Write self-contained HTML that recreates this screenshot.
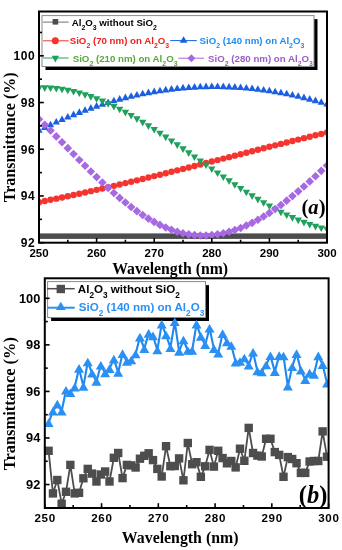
<!DOCTYPE html>
<html><head><meta charset="utf-8"><title>Transmittance</title>
<style>html,body{margin:0;padding:0;background:#fff;width:342px;height:550px;overflow:hidden}svg{display:block}</style>
</head><body>
<svg width="342" height="550" viewBox="0 0 342 550">
<rect width="342" height="550" fill="#fff"/>
<defs><clipPath id="c1"><rect x="39" y="11.5" width="288" height="231.2"/></clipPath><clipPath id="c2"><rect x="44.8" y="278.3" width="283.8" height="229.7"/></clipPath></defs>
<rect x="45.5" y="19.1" width="272" height="50.9" fill="#000"/>
<rect x="42" y="15.6" width="272" height="50.9" fill="#fff" stroke="#8a8a8a" stroke-width="1"/>
<line x1="43" y1="22.1" x2="68.6" y2="22.1" stroke="#707070" stroke-width="1"/>
<rect x="52.6" y="19" width="5.6" height="5.6" fill="#4d4d4d"/>
<text x="71.7" y="25.9" font-size="9.7" fill="#000" font-family="'Liberation Sans', Arial, sans-serif" font-weight="bold"><tspan>Al</tspan><tspan font-size="6.89" dy="4.07">2</tspan><tspan dy="-4.07">O</tspan><tspan font-size="6.89" dy="4.07">3</tspan><tspan dy="-4.07"> without SiO</tspan><tspan font-size="6.89" dy="4.07">2</tspan></text>
<line x1="43" y1="40.8" x2="68.6" y2="40.8" stroke="#f5342f" stroke-width="1"/>
<circle cx="55.3" cy="40.8" r="3.5" fill="#f5342f"/>
<text x="69.7" y="44.3" font-size="9.7" fill="#f0201c" font-family="'Liberation Sans', Arial, sans-serif" font-weight="bold"><tspan>SiO</tspan><tspan font-size="6.89" dy="4.07">2</tspan><tspan dy="-4.07"> (70 nm) on </tspan><tspan>Al</tspan><tspan font-size="6.89" dy="4.07">2</tspan><tspan dy="-4.07">O</tspan><tspan font-size="6.89" dy="4.07">3</tspan></text>
<line x1="170.2" y1="40.6" x2="196.8" y2="40.6" stroke="#1b5fe0" stroke-width="1"/>
<polygon points="183.6,36.2 187.45,42.8 179.75,42.8" fill="#1b5fe0"/>
<text x="199.5" y="44.3" font-size="9.7" fill="#1f8bf0" font-family="'Liberation Sans', Arial, sans-serif" font-weight="bold"><tspan>SiO</tspan><tspan font-size="6.89" dy="4.07">2</tspan><tspan dy="-4.07"> (140 nm) on </tspan><tspan>Al</tspan><tspan font-size="6.89" dy="4.07">2</tspan><tspan dy="-4.07">O</tspan><tspan font-size="6.89" dy="4.07">3</tspan></text>
<line x1="43" y1="58" x2="68.6" y2="58" stroke="#1fa05c" stroke-width="1"/>
<polygon points="55.35,62.6 59.05,55.8 51.65,55.8" fill="#1fa05c"/>
<text x="72.7" y="61.7" font-size="9.7" fill="#58a83a" font-family="'Liberation Sans', Arial, sans-serif" font-weight="bold"><tspan>SiO</tspan><tspan font-size="6.89" dy="4.07">2</tspan><tspan dy="-4.07"> (210 nm) on </tspan><tspan>Al</tspan><tspan font-size="6.89" dy="4.07">2</tspan><tspan dy="-4.07">O</tspan><tspan font-size="6.89" dy="4.07">3</tspan></text>
<line x1="178.4" y1="58.2" x2="204" y2="58.2" stroke="#a769e2" stroke-width="1"/>
<polygon points="191.4,54.35 195.35,58.3 191.4,62.25 187.45,58.3" fill="#a769e2"/>
<text x="208.1" y="61.7" font-size="9.7" fill="#9b5cc8" font-family="'Liberation Sans', Arial, sans-serif" font-weight="bold"><tspan>SiO</tspan><tspan font-size="6.89" dy="4.07">2</tspan><tspan dy="-4.07"> (280 nm) on </tspan><tspan>Al</tspan><tspan font-size="6.89" dy="4.07">2</tspan><tspan dy="-4.07">O</tspan><tspan font-size="6.89" dy="4.07">3</tspan></text>
<g clip-path="url(#c1)">
<rect x="36" y="233.4" width="294" height="5.5" fill="#4d4d4d"/>
<circle cx="39" cy="202.13" r="3.2" fill="#f5342f"/>
<circle cx="44.76" cy="200.99" r="3.2" fill="#f5342f"/>
<circle cx="50.52" cy="199.82" r="3.2" fill="#f5342f"/>
<circle cx="56.28" cy="198.63" r="3.2" fill="#f5342f"/>
<circle cx="62.04" cy="197.43" r="3.2" fill="#f5342f"/>
<circle cx="67.8" cy="196.2" r="3.2" fill="#f5342f"/>
<circle cx="73.56" cy="194.96" r="3.2" fill="#f5342f"/>
<circle cx="79.32" cy="193.7" r="3.2" fill="#f5342f"/>
<circle cx="85.08" cy="192.43" r="3.2" fill="#f5342f"/>
<circle cx="90.84" cy="191.14" r="3.2" fill="#f5342f"/>
<circle cx="96.6" cy="189.83" r="3.2" fill="#f5342f"/>
<circle cx="102.36" cy="188.52" r="3.2" fill="#f5342f"/>
<circle cx="108.12" cy="187.18" r="3.2" fill="#f5342f"/>
<circle cx="113.88" cy="185.84" r="3.2" fill="#f5342f"/>
<circle cx="119.64" cy="184.48" r="3.2" fill="#f5342f"/>
<circle cx="125.4" cy="183.11" r="3.2" fill="#f5342f"/>
<circle cx="131.16" cy="181.73" r="3.2" fill="#f5342f"/>
<circle cx="136.92" cy="180.34" r="3.2" fill="#f5342f"/>
<circle cx="142.68" cy="178.94" r="3.2" fill="#f5342f"/>
<circle cx="148.44" cy="177.52" r="3.2" fill="#f5342f"/>
<circle cx="154.2" cy="176.1" r="3.2" fill="#f5342f"/>
<circle cx="159.96" cy="174.68" r="3.2" fill="#f5342f"/>
<circle cx="165.72" cy="173.24" r="3.2" fill="#f5342f"/>
<circle cx="171.48" cy="171.8" r="3.2" fill="#f5342f"/>
<circle cx="177.24" cy="170.35" r="3.2" fill="#f5342f"/>
<circle cx="183" cy="168.9" r="3.2" fill="#f5342f"/>
<circle cx="188.76" cy="167.44" r="3.2" fill="#f5342f"/>
<circle cx="194.52" cy="165.97" r="3.2" fill="#f5342f"/>
<circle cx="200.28" cy="164.51" r="3.2" fill="#f5342f"/>
<circle cx="206.04" cy="163.03" r="3.2" fill="#f5342f"/>
<circle cx="211.8" cy="161.56" r="3.2" fill="#f5342f"/>
<circle cx="217.56" cy="160.09" r="3.2" fill="#f5342f"/>
<circle cx="223.32" cy="158.61" r="3.2" fill="#f5342f"/>
<circle cx="229.08" cy="157.13" r="3.2" fill="#f5342f"/>
<circle cx="234.84" cy="155.66" r="3.2" fill="#f5342f"/>
<circle cx="240.6" cy="154.18" r="3.2" fill="#f5342f"/>
<circle cx="246.36" cy="152.7" r="3.2" fill="#f5342f"/>
<circle cx="252.12" cy="151.23" r="3.2" fill="#f5342f"/>
<circle cx="257.88" cy="149.76" r="3.2" fill="#f5342f"/>
<circle cx="263.64" cy="148.29" r="3.2" fill="#f5342f"/>
<circle cx="269.4" cy="146.82" r="3.2" fill="#f5342f"/>
<circle cx="275.16" cy="145.36" r="3.2" fill="#f5342f"/>
<circle cx="280.92" cy="143.91" r="3.2" fill="#f5342f"/>
<circle cx="286.68" cy="142.46" r="3.2" fill="#f5342f"/>
<circle cx="292.44" cy="141.01" r="3.2" fill="#f5342f"/>
<circle cx="298.2" cy="139.58" r="3.2" fill="#f5342f"/>
<circle cx="303.96" cy="138.15" r="3.2" fill="#f5342f"/>
<circle cx="309.72" cy="136.72" r="3.2" fill="#f5342f"/>
<circle cx="315.48" cy="135.31" r="3.2" fill="#f5342f"/>
<circle cx="321.24" cy="133.91" r="3.2" fill="#f5342f"/>
<circle cx="327" cy="132.51" r="3.2" fill="#f5342f"/>
<polygon points="39,126.27 42.7,132.87 35.3,132.87" fill="#1b5fe0"/>
<polygon points="44.76,123.41 48.46,130.01 41.06,130.01" fill="#1b5fe0"/>
<polygon points="50.52,120.65 54.22,127.25 46.82,127.25" fill="#1b5fe0"/>
<polygon points="56.28,117.98 59.98,124.58 52.58,124.58" fill="#1b5fe0"/>
<polygon points="62.04,115.42 65.74,122.02 58.34,122.02" fill="#1b5fe0"/>
<polygon points="67.8,112.95 71.5,119.55 64.1,119.55" fill="#1b5fe0"/>
<polygon points="73.56,110.58 77.26,117.18 69.86,117.18" fill="#1b5fe0"/>
<polygon points="79.32,108.31 83.02,114.91 75.62,114.91" fill="#1b5fe0"/>
<polygon points="85.08,106.13 88.78,112.73 81.38,112.73" fill="#1b5fe0"/>
<polygon points="90.84,104.06 94.54,110.66 87.14,110.66" fill="#1b5fe0"/>
<polygon points="96.6,102.07 100.3,108.67 92.9,108.67" fill="#1b5fe0"/>
<polygon points="102.36,100.19 106.06,106.79 98.66,106.79" fill="#1b5fe0"/>
<polygon points="108.12,98.4 111.82,105 104.42,105" fill="#1b5fe0"/>
<polygon points="113.88,96.71 117.58,103.31 110.18,103.31" fill="#1b5fe0"/>
<polygon points="119.64,95.12 123.34,101.72 115.94,101.72" fill="#1b5fe0"/>
<polygon points="125.4,93.62 129.1,100.22 121.7,100.22" fill="#1b5fe0"/>
<polygon points="131.16,92.21 134.86,98.81 127.46,98.81" fill="#1b5fe0"/>
<polygon points="136.92,90.91 140.62,97.51 133.22,97.51" fill="#1b5fe0"/>
<polygon points="142.68,89.69 146.38,96.29 138.98,96.29" fill="#1b5fe0"/>
<polygon points="148.44,88.58 152.14,95.18 144.74,95.18" fill="#1b5fe0"/>
<polygon points="154.2,87.55 157.9,94.15 150.5,94.15" fill="#1b5fe0"/>
<polygon points="159.96,86.63 163.66,93.23 156.26,93.23" fill="#1b5fe0"/>
<polygon points="165.72,85.79 169.42,92.39 162.02,92.39" fill="#1b5fe0"/>
<polygon points="171.48,85.06 175.18,91.66 167.78,91.66" fill="#1b5fe0"/>
<polygon points="177.24,84.41 180.94,91.01 173.54,91.01" fill="#1b5fe0"/>
<polygon points="183,83.86 186.7,90.46 179.3,90.46" fill="#1b5fe0"/>
<polygon points="188.76,83.4 192.46,90 185.06,90" fill="#1b5fe0"/>
<polygon points="194.52,83.04 198.22,89.64 190.82,89.64" fill="#1b5fe0"/>
<polygon points="200.28,82.77 203.98,89.37 196.58,89.37" fill="#1b5fe0"/>
<polygon points="206.04,82.59 209.74,89.19 202.34,89.19" fill="#1b5fe0"/>
<polygon points="211.8,82.51 215.5,89.11 208.1,89.11" fill="#1b5fe0"/>
<polygon points="217.56,82.51 221.26,89.11 213.86,89.11" fill="#1b5fe0"/>
<polygon points="223.32,82.62 227.02,89.22 219.62,89.22" fill="#1b5fe0"/>
<polygon points="229.08,82.81 232.78,89.41 225.38,89.41" fill="#1b5fe0"/>
<polygon points="234.84,83.09 238.54,89.69 231.14,89.69" fill="#1b5fe0"/>
<polygon points="240.6,83.47 244.3,90.07 236.9,90.07" fill="#1b5fe0"/>
<polygon points="246.36,83.94 250.06,90.54 242.66,90.54" fill="#1b5fe0"/>
<polygon points="252.12,84.5 255.82,91.1 248.42,91.1" fill="#1b5fe0"/>
<polygon points="257.88,85.15 261.58,91.75 254.18,91.75" fill="#1b5fe0"/>
<polygon points="263.64,85.89 267.34,92.49 259.94,92.49" fill="#1b5fe0"/>
<polygon points="269.4,86.72 273.1,93.32 265.7,93.32" fill="#1b5fe0"/>
<polygon points="275.16,87.65 278.86,94.25 271.46,94.25" fill="#1b5fe0"/>
<polygon points="280.92,88.66 284.62,95.26 277.22,95.26" fill="#1b5fe0"/>
<polygon points="286.68,89.76 290.38,96.36 282.98,96.36" fill="#1b5fe0"/>
<polygon points="292.44,90.96 296.14,97.56 288.74,97.56" fill="#1b5fe0"/>
<polygon points="298.2,92.24 301.9,98.84 294.5,98.84" fill="#1b5fe0"/>
<polygon points="303.96,93.61 307.66,100.21 300.26,100.21" fill="#1b5fe0"/>
<polygon points="309.72,95.07 313.42,101.67 306.02,101.67" fill="#1b5fe0"/>
<polygon points="315.48,96.62 319.18,103.22 311.78,103.22" fill="#1b5fe0"/>
<polygon points="321.24,98.26 324.94,104.86 317.54,104.86" fill="#1b5fe0"/>
<polygon points="327,99.99 330.7,106.59 323.3,106.59" fill="#1b5fe0"/>
<polygon points="39,92.12 42.7,85.52 35.3,85.52" fill="#1fa05c"/>
<polygon points="44.76,91.97 48.46,85.37 41.06,85.37" fill="#1fa05c"/>
<polygon points="50.52,92.12 54.22,85.52 46.82,85.52" fill="#1fa05c"/>
<polygon points="56.28,92.57 59.98,85.97 52.58,85.97" fill="#1fa05c"/>
<polygon points="62.04,93.29 65.74,86.69 58.34,86.69" fill="#1fa05c"/>
<polygon points="67.8,94.27 71.5,87.67 64.1,87.67" fill="#1fa05c"/>
<polygon points="73.56,95.52 77.26,88.92 69.86,88.92" fill="#1fa05c"/>
<polygon points="79.32,97.01 83.02,90.41 75.62,90.41" fill="#1fa05c"/>
<polygon points="85.08,98.74 88.78,92.14 81.38,92.14" fill="#1fa05c"/>
<polygon points="90.84,100.68 94.54,94.08 87.14,94.08" fill="#1fa05c"/>
<polygon points="96.6,102.84 100.3,96.24 92.9,96.24" fill="#1fa05c"/>
<polygon points="102.36,105.2 106.06,98.6 98.66,98.6" fill="#1fa05c"/>
<polygon points="108.12,107.75 111.82,101.15 104.42,101.15" fill="#1fa05c"/>
<polygon points="113.88,110.48 117.58,103.88 110.18,103.88" fill="#1fa05c"/>
<polygon points="119.64,113.37 123.34,106.77 115.94,106.77" fill="#1fa05c"/>
<polygon points="125.4,116.42 129.1,109.82 121.7,109.82" fill="#1fa05c"/>
<polygon points="131.16,119.61 134.86,113.01 127.46,113.01" fill="#1fa05c"/>
<polygon points="136.92,122.93 140.62,116.33 133.22,116.33" fill="#1fa05c"/>
<polygon points="142.68,126.38 146.38,119.78 138.98,119.78" fill="#1fa05c"/>
<polygon points="148.44,129.93 152.14,123.33 144.74,123.33" fill="#1fa05c"/>
<polygon points="154.2,133.59 157.9,126.99 150.5,126.99" fill="#1fa05c"/>
<polygon points="159.96,137.33 163.66,130.73 156.26,130.73" fill="#1fa05c"/>
<polygon points="165.72,141.15 169.42,134.55 162.02,134.55" fill="#1fa05c"/>
<polygon points="171.48,145.03 175.18,138.43 167.78,138.43" fill="#1fa05c"/>
<polygon points="177.24,148.97 180.94,142.37 173.54,142.37" fill="#1fa05c"/>
<polygon points="183,152.95 186.7,146.35 179.3,146.35" fill="#1fa05c"/>
<polygon points="188.76,156.96 192.46,150.36 185.06,150.36" fill="#1fa05c"/>
<polygon points="194.52,160.99 198.22,154.39 190.82,154.39" fill="#1fa05c"/>
<polygon points="200.28,165.03 203.98,158.43 196.58,158.43" fill="#1fa05c"/>
<polygon points="206.04,169.07 209.74,162.47 202.34,162.47" fill="#1fa05c"/>
<polygon points="211.8,173.09 215.5,166.49 208.1,166.49" fill="#1fa05c"/>
<polygon points="217.56,177.09 221.26,170.49 213.86,170.49" fill="#1fa05c"/>
<polygon points="223.32,181.05 227.02,174.45 219.62,174.45" fill="#1fa05c"/>
<polygon points="229.08,184.96 232.78,178.36 225.38,178.36" fill="#1fa05c"/>
<polygon points="234.84,188.82 238.54,182.22 231.14,182.22" fill="#1fa05c"/>
<polygon points="240.6,192.61 244.3,186.01 236.9,186.01" fill="#1fa05c"/>
<polygon points="246.36,196.32 250.06,189.72 242.66,189.72" fill="#1fa05c"/>
<polygon points="252.12,199.93 255.82,193.33 248.42,193.33" fill="#1fa05c"/>
<polygon points="257.88,203.44 261.58,196.84 254.18,196.84" fill="#1fa05c"/>
<polygon points="263.64,206.84 267.34,200.24 259.94,200.24" fill="#1fa05c"/>
<polygon points="269.4,210.11 273.1,203.51 265.7,203.51" fill="#1fa05c"/>
<polygon points="275.16,213.24 278.86,206.64 271.46,206.64" fill="#1fa05c"/>
<polygon points="280.92,216.23 284.62,209.63 277.22,209.63" fill="#1fa05c"/>
<polygon points="286.68,219.06 290.38,212.46 282.98,212.46" fill="#1fa05c"/>
<polygon points="292.44,221.72 296.14,215.12 288.74,215.12" fill="#1fa05c"/>
<polygon points="298.2,224.19 301.9,217.59 294.5,217.59" fill="#1fa05c"/>
<polygon points="303.96,226.47 307.66,219.87 300.26,219.87" fill="#1fa05c"/>
<polygon points="309.72,228.55 313.42,221.95 306.02,221.95" fill="#1fa05c"/>
<polygon points="315.48,230.42 319.18,223.82 311.78,223.82" fill="#1fa05c"/>
<polygon points="321.24,232.05 324.94,225.45 317.54,225.45" fill="#1fa05c"/>
<polygon points="327,233.45 330.7,226.85 323.3,226.85" fill="#1fa05c"/>
<polygon points="39,114.83 43.3,119.13 39,123.43 34.7,119.13" fill="#a769e2"/>
<polygon points="44.76,120.49 49.06,124.79 44.76,129.09 40.46,124.79" fill="#a769e2"/>
<polygon points="50.52,126.25 54.82,130.55 50.52,134.85 46.22,130.55" fill="#a769e2"/>
<polygon points="56.28,132.08 60.58,136.38 56.28,140.68 51.98,136.38" fill="#a769e2"/>
<polygon points="62.04,137.97 66.34,142.27 62.04,146.57 57.74,142.27" fill="#a769e2"/>
<polygon points="67.8,143.87 72.1,148.17 67.8,152.47 63.5,148.17" fill="#a769e2"/>
<polygon points="73.56,149.77 77.86,154.07 73.56,158.37 69.26,154.07" fill="#a769e2"/>
<polygon points="79.32,155.64 83.62,159.94 79.32,164.24 75.02,159.94" fill="#a769e2"/>
<polygon points="85.08,161.45 89.38,165.75 85.08,170.05 80.78,165.75" fill="#a769e2"/>
<polygon points="90.84,167.17 95.14,171.47 90.84,175.77 86.54,171.47" fill="#a769e2"/>
<polygon points="96.6,172.79 100.9,177.09 96.6,181.39 92.3,177.09" fill="#a769e2"/>
<polygon points="102.36,178.26 106.66,182.56 102.36,186.86 98.06,182.56" fill="#a769e2"/>
<polygon points="108.12,183.57 112.42,187.87 108.12,192.17 103.82,187.87" fill="#a769e2"/>
<polygon points="113.88,188.69 118.18,192.99 113.88,197.29 109.58,192.99" fill="#a769e2"/>
<polygon points="119.64,193.6 123.94,197.9 119.64,202.2 115.34,197.9" fill="#a769e2"/>
<polygon points="125.4,198.27 129.7,202.57 125.4,206.87 121.1,202.57" fill="#a769e2"/>
<polygon points="131.16,202.69 135.46,206.99 131.16,211.29 126.86,206.99" fill="#a769e2"/>
<polygon points="136.92,206.86 141.22,211.16 136.92,215.46 132.62,211.16" fill="#a769e2"/>
<polygon points="142.68,210.74 146.98,215.04 142.68,219.34 138.38,215.04" fill="#a769e2"/>
<polygon points="148.44,214.33 152.74,218.63 148.44,222.93 144.14,218.63" fill="#a769e2"/>
<polygon points="154.2,217.62 158.5,221.92 154.2,226.22 149.9,221.92" fill="#a769e2"/>
<polygon points="159.96,220.58 164.26,224.88 159.96,229.18 155.66,224.88" fill="#a769e2"/>
<polygon points="165.72,223.2 170.02,227.5 165.72,231.8 161.42,227.5" fill="#a769e2"/>
<polygon points="171.48,225.48 175.78,229.78 171.48,234.08 167.18,229.78" fill="#a769e2"/>
<polygon points="177.24,227.38 181.54,231.68 177.24,235.98 172.94,231.68" fill="#a769e2"/>
<polygon points="183,228.91 187.3,233.21 183,237.51 178.7,233.21" fill="#a769e2"/>
<polygon points="188.76,230.04 193.06,234.34 188.76,238.64 184.46,234.34" fill="#a769e2"/>
<polygon points="194.52,230.78 198.82,235.08 194.52,239.38 190.22,235.08" fill="#a769e2"/>
<polygon points="200.28,231.14 204.58,235.44 200.28,239.74 195.98,235.44" fill="#a769e2"/>
<polygon points="206.04,231.13 210.34,235.43 206.04,239.73 201.74,235.43" fill="#a769e2"/>
<polygon points="211.8,230.75 216.1,235.05 211.8,239.35 207.5,235.05" fill="#a769e2"/>
<polygon points="217.56,230.01 221.86,234.31 217.56,238.61 213.26,234.31" fill="#a769e2"/>
<polygon points="223.32,228.93 227.62,233.23 223.32,237.53 219.02,233.23" fill="#a769e2"/>
<polygon points="229.08,227.5 233.38,231.8 229.08,236.1 224.78,231.8" fill="#a769e2"/>
<polygon points="234.84,225.74 239.14,230.04 234.84,234.34 230.54,230.04" fill="#a769e2"/>
<polygon points="240.6,223.65 244.9,227.95 240.6,232.25 236.3,227.95" fill="#a769e2"/>
<polygon points="246.36,221.24 250.66,225.54 246.36,229.84 242.06,225.54" fill="#a769e2"/>
<polygon points="252.12,218.53 256.42,222.83 252.12,227.13 247.82,222.83" fill="#a769e2"/>
<polygon points="257.88,215.51 262.18,219.81 257.88,224.11 253.58,219.81" fill="#a769e2"/>
<polygon points="263.64,212.19 267.94,216.49 263.64,220.79 259.34,216.49" fill="#a769e2"/>
<polygon points="269.4,208.6 273.7,212.9 269.4,217.2 265.1,212.9" fill="#a769e2"/>
<polygon points="275.16,204.75 279.46,209.05 275.16,213.35 270.86,209.05" fill="#a769e2"/>
<polygon points="280.92,200.66 285.22,204.96 280.92,209.26 276.62,204.96" fill="#a769e2"/>
<polygon points="286.68,196.33 290.98,200.63 286.68,204.93 282.38,200.63" fill="#a769e2"/>
<polygon points="292.44,191.8 296.74,196.1 292.44,200.4 288.14,196.1" fill="#a769e2"/>
<polygon points="298.2,187.07 302.5,191.37 298.2,195.67 293.9,191.37" fill="#a769e2"/>
<polygon points="303.96,182.17 308.26,186.47 303.96,190.77 299.66,186.47" fill="#a769e2"/>
<polygon points="309.72,177.11 314.02,181.41 309.72,185.71 305.42,181.41" fill="#a769e2"/>
<polygon points="315.48,171.9 319.78,176.2 315.48,180.5 311.18,176.2" fill="#a769e2"/>
<polygon points="321.24,166.57 325.54,170.87 321.24,175.17 316.94,170.87" fill="#a769e2"/>
<polygon points="327,161.13 331.3,165.43 327,169.73 322.7,165.43" fill="#a769e2"/>
</g>
<rect x="39" y="11.5" width="288" height="231.2" fill="none" stroke="#000" stroke-width="2"/>
<line x1="39" y1="242.7" x2="43.8" y2="242.7" stroke="#000" stroke-width="1.6"/>
<line x1="39" y1="219.34" x2="42" y2="219.34" stroke="#000" stroke-width="1.6"/>
<line x1="39" y1="195.98" x2="43.8" y2="195.98" stroke="#000" stroke-width="1.6"/>
<line x1="39" y1="172.62" x2="42" y2="172.62" stroke="#000" stroke-width="1.6"/>
<line x1="39" y1="149.26" x2="43.8" y2="149.26" stroke="#000" stroke-width="1.6"/>
<line x1="39" y1="125.9" x2="42" y2="125.9" stroke="#000" stroke-width="1.6"/>
<line x1="39" y1="102.54" x2="43.8" y2="102.54" stroke="#000" stroke-width="1.6"/>
<line x1="39" y1="79.18" x2="42" y2="79.18" stroke="#000" stroke-width="1.6"/>
<line x1="39" y1="55.82" x2="43.8" y2="55.82" stroke="#000" stroke-width="1.6"/>
<line x1="39" y1="32.46" x2="42" y2="32.46" stroke="#000" stroke-width="1.6"/>
<line x1="39" y1="242.7" x2="39" y2="237.9" stroke="#000" stroke-width="1.6"/>
<line x1="67.8" y1="242.7" x2="67.8" y2="239.7" stroke="#000" stroke-width="1.6"/>
<line x1="96.6" y1="242.7" x2="96.6" y2="237.9" stroke="#000" stroke-width="1.6"/>
<line x1="125.4" y1="242.7" x2="125.4" y2="239.7" stroke="#000" stroke-width="1.6"/>
<line x1="154.2" y1="242.7" x2="154.2" y2="237.9" stroke="#000" stroke-width="1.6"/>
<line x1="183" y1="242.7" x2="183" y2="239.7" stroke="#000" stroke-width="1.6"/>
<line x1="211.8" y1="242.7" x2="211.8" y2="237.9" stroke="#000" stroke-width="1.6"/>
<line x1="240.6" y1="242.7" x2="240.6" y2="239.7" stroke="#000" stroke-width="1.6"/>
<line x1="269.4" y1="242.7" x2="269.4" y2="237.9" stroke="#000" stroke-width="1.6"/>
<line x1="298.2" y1="242.7" x2="298.2" y2="239.7" stroke="#000" stroke-width="1.6"/>
<line x1="327" y1="242.7" x2="327" y2="237.9" stroke="#000" stroke-width="1.6"/>
<text x="35.1" y="247" text-anchor="end" font-size="12" letter-spacing="0.5" font-family="'Liberation Sans', Arial, sans-serif" font-weight="bold">92</text>
<text x="35.1" y="200.28" text-anchor="end" font-size="12" letter-spacing="0.5" font-family="'Liberation Sans', Arial, sans-serif" font-weight="bold">94</text>
<text x="35.1" y="153.56" text-anchor="end" font-size="12" letter-spacing="0.5" font-family="'Liberation Sans', Arial, sans-serif" font-weight="bold">96</text>
<text x="35.1" y="106.84" text-anchor="end" font-size="12" letter-spacing="0.5" font-family="'Liberation Sans', Arial, sans-serif" font-weight="bold">98</text>
<text x="35.1" y="60.12" text-anchor="end" font-size="12" letter-spacing="0.5" font-family="'Liberation Sans', Arial, sans-serif" font-weight="bold">100</text>
<text x="39" y="257.4" text-anchor="middle" font-size="11.5" font-family="'Liberation Sans', Arial, sans-serif" font-weight="bold">250</text>
<text x="96.6" y="257.4" text-anchor="middle" font-size="11.5" font-family="'Liberation Sans', Arial, sans-serif" font-weight="bold">260</text>
<text x="154.2" y="257.4" text-anchor="middle" font-size="11.5" font-family="'Liberation Sans', Arial, sans-serif" font-weight="bold">270</text>
<text x="211.8" y="257.4" text-anchor="middle" font-size="11.5" font-family="'Liberation Sans', Arial, sans-serif" font-weight="bold">280</text>
<text x="269.4" y="257.4" text-anchor="middle" font-size="11.5" font-family="'Liberation Sans', Arial, sans-serif" font-weight="bold">290</text>
<text x="327" y="257.4" text-anchor="middle" font-size="11.5" font-family="'Liberation Sans', Arial, sans-serif" font-weight="bold">300</text>
<text x="170.1" y="273.8" text-anchor="middle" font-size="15.75" font-family="'Liberation Serif', 'Times New Roman', serif" font-weight="bold">Wavelength (nm)</text>
<text transform="translate(14.9,137.35) rotate(-90)" x="0" y="0" text-anchor="middle" font-size="16" font-family="'Liberation Serif', 'Times New Roman', serif" font-weight="bold">Transmittance (%)</text>
<text x="313.5" y="213.9" text-anchor="middle" font-size="20.6" font-family="'Liberation Serif', 'Times New Roman', serif" font-weight="bold">(<tspan font-style="italic">a</tspan>)</text>
<rect x="51.1" y="285.1" width="157.9" height="35.9" fill="#000"/>
<rect x="47.6" y="281.6" width="157.9" height="35.9" fill="#fff" stroke="#8a8a8a" stroke-width="1"/>
<line x1="47" y1="288.7" x2="74.7" y2="288.7" stroke="#4d4d4d" stroke-width="1.5"/>
<rect x="56.6" y="284.8" width="8.4" height="8.4" fill="#4d4d4d"/>
<text x="77.8" y="293.3" font-size="11.6" fill="#000" font-family="'Liberation Sans', Arial, sans-serif" font-weight="bold"><tspan>Al</tspan><tspan font-size="8.24" dy="4.87">2</tspan><tspan dy="-4.87">O</tspan><tspan font-size="8.24" dy="4.87">3</tspan><tspan dy="-4.87"> without SiO</tspan><tspan font-size="8.24" dy="4.87">2</tspan></text>
<line x1="47" y1="307.7" x2="74.7" y2="307.7" stroke="#2b90f4" stroke-width="2"/>
<polygon points="60.8,301.7 65.7,309.9 55.9,309.9" fill="#2b90f4"/>
<text x="78.8" y="311.2" font-size="11.6" fill="#2b90f4" font-family="'Liberation Sans', Arial, sans-serif" font-weight="bold"><tspan>SiO</tspan><tspan font-size="8.24" dy="4.87">2</tspan><tspan dy="-4.87"> (140 nm) on </tspan><tspan>Al</tspan><tspan font-size="8.24" dy="4.87">2</tspan><tspan dy="-4.87">O</tspan><tspan font-size="8.24" dy="4.87">3</tspan></text>
<g clip-path="url(#c2)">
<polyline points="48.6,450.8 52.95,493.4 57.3,480 61.65,503.7 66,491.8 70.35,464.9 74.7,493.4 79.05,492.8 83.4,478.3 87.75,468.9 92.1,473.6 96.45,481.5 100.8,474.5 105.15,471.5 109.5,481.5 113.85,457.8 118.2,453 122.55,478.1 126.9,464.9 131.25,465.4 135.6,467.5 139.95,458.7 144.3,455.8 148.65,453.3 153,460.1 157.35,468.9 161.7,476.5 166.05,446.2 170.4,466.2 174.75,466 179.1,458.4 183.45,480.3 187.8,443 192.15,464.2 196.5,462.2 200.85,476.8 205.2,466.3 209.55,449.9 213.9,466.6 218.25,450.8 222.6,458.1 226.95,463.3 231.3,461 235.65,467.4 240,448.7 244.35,460.8 248.7,427.9 253.05,453 257.4,455.6 261.75,456.5 266.1,438.8 270.45,438.8 274.8,452.1 279.15,454.9 283.5,476.8 287.85,457.1 292.2,459 296.55,463.2 300.9,472.9 305.25,472.9 309.6,461.5 313.95,461 318.3,461 322.65,431.4 327,456.7" fill="none" stroke="#4d4d4d" stroke-width="1.8" stroke-linejoin="round"/>
<rect x="44.4" y="446.6" width="8.4" height="8.4" fill="#4d4d4d"/>
<rect x="48.75" y="489.2" width="8.4" height="8.4" fill="#4d4d4d"/>
<rect x="53.1" y="475.8" width="8.4" height="8.4" fill="#4d4d4d"/>
<rect x="57.45" y="499.5" width="8.4" height="8.4" fill="#4d4d4d"/>
<rect x="61.8" y="487.6" width="8.4" height="8.4" fill="#4d4d4d"/>
<rect x="66.15" y="460.7" width="8.4" height="8.4" fill="#4d4d4d"/>
<rect x="70.5" y="489.2" width="8.4" height="8.4" fill="#4d4d4d"/>
<rect x="74.85" y="488.6" width="8.4" height="8.4" fill="#4d4d4d"/>
<rect x="79.2" y="474.1" width="8.4" height="8.4" fill="#4d4d4d"/>
<rect x="83.55" y="464.7" width="8.4" height="8.4" fill="#4d4d4d"/>
<rect x="87.9" y="469.4" width="8.4" height="8.4" fill="#4d4d4d"/>
<rect x="92.25" y="477.3" width="8.4" height="8.4" fill="#4d4d4d"/>
<rect x="96.6" y="470.3" width="8.4" height="8.4" fill="#4d4d4d"/>
<rect x="100.95" y="467.3" width="8.4" height="8.4" fill="#4d4d4d"/>
<rect x="105.3" y="477.3" width="8.4" height="8.4" fill="#4d4d4d"/>
<rect x="109.65" y="453.6" width="8.4" height="8.4" fill="#4d4d4d"/>
<rect x="114" y="448.8" width="8.4" height="8.4" fill="#4d4d4d"/>
<rect x="118.35" y="473.9" width="8.4" height="8.4" fill="#4d4d4d"/>
<rect x="122.7" y="460.7" width="8.4" height="8.4" fill="#4d4d4d"/>
<rect x="127.05" y="461.2" width="8.4" height="8.4" fill="#4d4d4d"/>
<rect x="131.4" y="463.3" width="8.4" height="8.4" fill="#4d4d4d"/>
<rect x="135.75" y="454.5" width="8.4" height="8.4" fill="#4d4d4d"/>
<rect x="140.1" y="451.6" width="8.4" height="8.4" fill="#4d4d4d"/>
<rect x="144.45" y="449.1" width="8.4" height="8.4" fill="#4d4d4d"/>
<rect x="148.8" y="455.9" width="8.4" height="8.4" fill="#4d4d4d"/>
<rect x="153.15" y="464.7" width="8.4" height="8.4" fill="#4d4d4d"/>
<rect x="157.5" y="472.3" width="8.4" height="8.4" fill="#4d4d4d"/>
<rect x="161.85" y="442" width="8.4" height="8.4" fill="#4d4d4d"/>
<rect x="166.2" y="462" width="8.4" height="8.4" fill="#4d4d4d"/>
<rect x="170.55" y="461.8" width="8.4" height="8.4" fill="#4d4d4d"/>
<rect x="174.9" y="454.2" width="8.4" height="8.4" fill="#4d4d4d"/>
<rect x="179.25" y="476.1" width="8.4" height="8.4" fill="#4d4d4d"/>
<rect x="183.6" y="438.8" width="8.4" height="8.4" fill="#4d4d4d"/>
<rect x="187.95" y="460" width="8.4" height="8.4" fill="#4d4d4d"/>
<rect x="192.3" y="458" width="8.4" height="8.4" fill="#4d4d4d"/>
<rect x="196.65" y="472.6" width="8.4" height="8.4" fill="#4d4d4d"/>
<rect x="201" y="462.1" width="8.4" height="8.4" fill="#4d4d4d"/>
<rect x="205.35" y="445.7" width="8.4" height="8.4" fill="#4d4d4d"/>
<rect x="209.7" y="462.4" width="8.4" height="8.4" fill="#4d4d4d"/>
<rect x="214.05" y="446.6" width="8.4" height="8.4" fill="#4d4d4d"/>
<rect x="218.4" y="453.9" width="8.4" height="8.4" fill="#4d4d4d"/>
<rect x="222.75" y="459.1" width="8.4" height="8.4" fill="#4d4d4d"/>
<rect x="227.1" y="456.8" width="8.4" height="8.4" fill="#4d4d4d"/>
<rect x="231.45" y="463.2" width="8.4" height="8.4" fill="#4d4d4d"/>
<rect x="235.8" y="444.5" width="8.4" height="8.4" fill="#4d4d4d"/>
<rect x="240.15" y="456.6" width="8.4" height="8.4" fill="#4d4d4d"/>
<rect x="244.5" y="423.7" width="8.4" height="8.4" fill="#4d4d4d"/>
<rect x="248.85" y="448.8" width="8.4" height="8.4" fill="#4d4d4d"/>
<rect x="253.2" y="451.4" width="8.4" height="8.4" fill="#4d4d4d"/>
<rect x="257.55" y="452.3" width="8.4" height="8.4" fill="#4d4d4d"/>
<rect x="261.9" y="434.6" width="8.4" height="8.4" fill="#4d4d4d"/>
<rect x="266.25" y="434.6" width="8.4" height="8.4" fill="#4d4d4d"/>
<rect x="270.6" y="447.9" width="8.4" height="8.4" fill="#4d4d4d"/>
<rect x="274.95" y="450.7" width="8.4" height="8.4" fill="#4d4d4d"/>
<rect x="279.3" y="472.6" width="8.4" height="8.4" fill="#4d4d4d"/>
<rect x="283.65" y="452.9" width="8.4" height="8.4" fill="#4d4d4d"/>
<rect x="288" y="454.8" width="8.4" height="8.4" fill="#4d4d4d"/>
<rect x="292.35" y="459" width="8.4" height="8.4" fill="#4d4d4d"/>
<rect x="296.7" y="468.7" width="8.4" height="8.4" fill="#4d4d4d"/>
<rect x="301.05" y="468.7" width="8.4" height="8.4" fill="#4d4d4d"/>
<rect x="305.4" y="457.3" width="8.4" height="8.4" fill="#4d4d4d"/>
<rect x="309.75" y="456.8" width="8.4" height="8.4" fill="#4d4d4d"/>
<rect x="314.1" y="456.8" width="8.4" height="8.4" fill="#4d4d4d"/>
<rect x="318.45" y="427.2" width="8.4" height="8.4" fill="#4d4d4d"/>
<rect x="322.8" y="452.5" width="8.4" height="8.4" fill="#4d4d4d"/>
<polyline points="48.6,422.7 52.95,411.2 57.3,404.1 61.65,411.2 66,390.3 70.35,392.7 74.7,387.1 79.05,368.4 83.4,386.4 87.75,362 92.1,373.2 96.45,381.4 100.8,365.2 105.15,373 109.5,368.6 113.85,359.1 118.2,372.5 122.55,353.6 126.9,361.4 131.25,360 135.6,354 139.95,337.1 144.3,348.6 148.65,333.4 153,335.9 157.35,350 161.7,324.1 166.05,335 170.4,347.7 174.75,321.8 179.1,351.4 183.45,340 187.8,350.5 192.15,350.5 196.5,324.1 200.85,336.4 205.2,344.8 209.55,328.2 213.9,348.6 218.25,353.2 222.6,333.6 226.95,342 231.3,345.5 235.65,362.1 240,361.5 244.35,358 248.7,365.3 253.05,352.2 257.4,371 261.75,372 266.1,365 270.45,355.7 274.8,371.6 279.15,355.6 283.5,356 287.85,386.3 292.2,366.7 296.55,353.6 300.9,370.3 305.25,379.6 309.6,373.1 313.95,374.4 318.3,355.9 322.65,364.6 327,383.2" fill="none" stroke="#1f88f0" stroke-width="2.1" stroke-linejoin="round"/>
<polygon points="48.6,418.4 53.6,427 43.6,427" fill="#2b90f4"/>
<polygon points="52.95,406.9 57.95,415.5 47.95,415.5" fill="#2b90f4"/>
<polygon points="57.3,399.8 62.3,408.4 52.3,408.4" fill="#2b90f4"/>
<polygon points="61.65,406.9 66.65,415.5 56.65,415.5" fill="#2b90f4"/>
<polygon points="66,386 71,394.6 61,394.6" fill="#2b90f4"/>
<polygon points="70.35,388.4 75.35,397 65.35,397" fill="#2b90f4"/>
<polygon points="74.7,382.8 79.7,391.4 69.7,391.4" fill="#2b90f4"/>
<polygon points="79.05,364.1 84.05,372.7 74.05,372.7" fill="#2b90f4"/>
<polygon points="83.4,382.1 88.4,390.7 78.4,390.7" fill="#2b90f4"/>
<polygon points="87.75,357.7 92.75,366.3 82.75,366.3" fill="#2b90f4"/>
<polygon points="92.1,368.9 97.1,377.5 87.1,377.5" fill="#2b90f4"/>
<polygon points="96.45,377.1 101.45,385.7 91.45,385.7" fill="#2b90f4"/>
<polygon points="100.8,360.9 105.8,369.5 95.8,369.5" fill="#2b90f4"/>
<polygon points="105.15,368.7 110.15,377.3 100.15,377.3" fill="#2b90f4"/>
<polygon points="109.5,364.3 114.5,372.9 104.5,372.9" fill="#2b90f4"/>
<polygon points="113.85,354.8 118.85,363.4 108.85,363.4" fill="#2b90f4"/>
<polygon points="118.2,368.2 123.2,376.8 113.2,376.8" fill="#2b90f4"/>
<polygon points="122.55,349.3 127.55,357.9 117.55,357.9" fill="#2b90f4"/>
<polygon points="126.9,357.1 131.9,365.7 121.9,365.7" fill="#2b90f4"/>
<polygon points="131.25,355.7 136.25,364.3 126.25,364.3" fill="#2b90f4"/>
<polygon points="135.6,349.7 140.6,358.3 130.6,358.3" fill="#2b90f4"/>
<polygon points="139.95,332.8 144.95,341.4 134.95,341.4" fill="#2b90f4"/>
<polygon points="144.3,344.3 149.3,352.9 139.3,352.9" fill="#2b90f4"/>
<polygon points="148.65,329.1 153.65,337.7 143.65,337.7" fill="#2b90f4"/>
<polygon points="153,331.6 158,340.2 148,340.2" fill="#2b90f4"/>
<polygon points="157.35,345.7 162.35,354.3 152.35,354.3" fill="#2b90f4"/>
<polygon points="161.7,319.8 166.7,328.4 156.7,328.4" fill="#2b90f4"/>
<polygon points="166.05,330.7 171.05,339.3 161.05,339.3" fill="#2b90f4"/>
<polygon points="170.4,343.4 175.4,352 165.4,352" fill="#2b90f4"/>
<polygon points="174.75,317.5 179.75,326.1 169.75,326.1" fill="#2b90f4"/>
<polygon points="179.1,347.1 184.1,355.7 174.1,355.7" fill="#2b90f4"/>
<polygon points="183.45,335.7 188.45,344.3 178.45,344.3" fill="#2b90f4"/>
<polygon points="187.8,346.2 192.8,354.8 182.8,354.8" fill="#2b90f4"/>
<polygon points="192.15,346.2 197.15,354.8 187.15,354.8" fill="#2b90f4"/>
<polygon points="196.5,319.8 201.5,328.4 191.5,328.4" fill="#2b90f4"/>
<polygon points="200.85,332.1 205.85,340.7 195.85,340.7" fill="#2b90f4"/>
<polygon points="205.2,340.5 210.2,349.1 200.2,349.1" fill="#2b90f4"/>
<polygon points="209.55,323.9 214.55,332.5 204.55,332.5" fill="#2b90f4"/>
<polygon points="213.9,344.3 218.9,352.9 208.9,352.9" fill="#2b90f4"/>
<polygon points="218.25,348.9 223.25,357.5 213.25,357.5" fill="#2b90f4"/>
<polygon points="222.6,329.3 227.6,337.9 217.6,337.9" fill="#2b90f4"/>
<polygon points="226.95,337.7 231.95,346.3 221.95,346.3" fill="#2b90f4"/>
<polygon points="231.3,341.2 236.3,349.8 226.3,349.8" fill="#2b90f4"/>
<polygon points="235.65,357.8 240.65,366.4 230.65,366.4" fill="#2b90f4"/>
<polygon points="240,357.2 245,365.8 235,365.8" fill="#2b90f4"/>
<polygon points="244.35,353.7 249.35,362.3 239.35,362.3" fill="#2b90f4"/>
<polygon points="248.7,361 253.7,369.6 243.7,369.6" fill="#2b90f4"/>
<polygon points="253.05,347.9 258.05,356.5 248.05,356.5" fill="#2b90f4"/>
<polygon points="257.4,366.7 262.4,375.3 252.4,375.3" fill="#2b90f4"/>
<polygon points="261.75,367.7 266.75,376.3 256.75,376.3" fill="#2b90f4"/>
<polygon points="266.1,360.7 271.1,369.3 261.1,369.3" fill="#2b90f4"/>
<polygon points="270.45,351.4 275.45,360 265.45,360" fill="#2b90f4"/>
<polygon points="274.8,367.3 279.8,375.9 269.8,375.9" fill="#2b90f4"/>
<polygon points="279.15,351.3 284.15,359.9 274.15,359.9" fill="#2b90f4"/>
<polygon points="283.5,351.7 288.5,360.3 278.5,360.3" fill="#2b90f4"/>
<polygon points="287.85,382 292.85,390.6 282.85,390.6" fill="#2b90f4"/>
<polygon points="292.2,362.4 297.2,371 287.2,371" fill="#2b90f4"/>
<polygon points="296.55,349.3 301.55,357.9 291.55,357.9" fill="#2b90f4"/>
<polygon points="300.9,366 305.9,374.6 295.9,374.6" fill="#2b90f4"/>
<polygon points="305.25,375.3 310.25,383.9 300.25,383.9" fill="#2b90f4"/>
<polygon points="309.6,368.8 314.6,377.4 304.6,377.4" fill="#2b90f4"/>
<polygon points="313.95,370.1 318.95,378.7 308.95,378.7" fill="#2b90f4"/>
<polygon points="318.3,351.6 323.3,360.2 313.3,360.2" fill="#2b90f4"/>
<polygon points="322.65,360.3 327.65,368.9 317.65,368.9" fill="#2b90f4"/>
<polygon points="327,378.9 332,387.5 322,387.5" fill="#2b90f4"/>
</g>
<rect x="44.8" y="278.3" width="283.8" height="229.7" fill="none" stroke="#000" stroke-width="2"/>
<line x1="44.8" y1="507.82" x2="47.8" y2="507.82" stroke="#000" stroke-width="1.6"/>
<line x1="44.8" y1="484.54" x2="49.6" y2="484.54" stroke="#000" stroke-width="1.6"/>
<line x1="44.8" y1="461.26" x2="47.8" y2="461.26" stroke="#000" stroke-width="1.6"/>
<line x1="44.8" y1="437.98" x2="49.6" y2="437.98" stroke="#000" stroke-width="1.6"/>
<line x1="44.8" y1="414.7" x2="47.8" y2="414.7" stroke="#000" stroke-width="1.6"/>
<line x1="44.8" y1="391.42" x2="49.6" y2="391.42" stroke="#000" stroke-width="1.6"/>
<line x1="44.8" y1="368.14" x2="47.8" y2="368.14" stroke="#000" stroke-width="1.6"/>
<line x1="44.8" y1="344.86" x2="49.6" y2="344.86" stroke="#000" stroke-width="1.6"/>
<line x1="44.8" y1="321.58" x2="47.8" y2="321.58" stroke="#000" stroke-width="1.6"/>
<line x1="44.8" y1="298.3" x2="49.6" y2="298.3" stroke="#000" stroke-width="1.6"/>
<line x1="44.8" y1="508" x2="44.8" y2="503.2" stroke="#000" stroke-width="1.6"/>
<line x1="73.18" y1="508" x2="73.18" y2="505" stroke="#000" stroke-width="1.6"/>
<line x1="101.56" y1="508" x2="101.56" y2="503.2" stroke="#000" stroke-width="1.6"/>
<line x1="129.94" y1="508" x2="129.94" y2="505" stroke="#000" stroke-width="1.6"/>
<line x1="158.32" y1="508" x2="158.32" y2="503.2" stroke="#000" stroke-width="1.6"/>
<line x1="186.7" y1="508" x2="186.7" y2="505" stroke="#000" stroke-width="1.6"/>
<line x1="215.08" y1="508" x2="215.08" y2="503.2" stroke="#000" stroke-width="1.6"/>
<line x1="243.46" y1="508" x2="243.46" y2="505" stroke="#000" stroke-width="1.6"/>
<line x1="271.84" y1="508" x2="271.84" y2="503.2" stroke="#000" stroke-width="1.6"/>
<line x1="300.22" y1="508" x2="300.22" y2="505" stroke="#000" stroke-width="1.6"/>
<line x1="328.6" y1="508" x2="328.6" y2="503.2" stroke="#000" stroke-width="1.6"/>
<text x="40.3" y="488.99" text-anchor="end" font-size="12.8" font-family="'Liberation Sans', Arial, sans-serif" font-weight="bold">92</text>
<text x="40.3" y="442.43" text-anchor="end" font-size="12.8" font-family="'Liberation Sans', Arial, sans-serif" font-weight="bold">94</text>
<text x="40.3" y="395.87" text-anchor="end" font-size="12.8" font-family="'Liberation Sans', Arial, sans-serif" font-weight="bold">96</text>
<text x="40.3" y="349.31" text-anchor="end" font-size="12.8" font-family="'Liberation Sans', Arial, sans-serif" font-weight="bold">98</text>
<text x="40.3" y="302.75" text-anchor="end" font-size="12.8" font-family="'Liberation Sans', Arial, sans-serif" font-weight="bold">100</text>
<text x="45.15" y="522.1" text-anchor="middle" font-size="11.6" letter-spacing="0.7" font-family="'Liberation Sans', Arial, sans-serif" font-weight="bold">250</text>
<text x="101.91" y="522.1" text-anchor="middle" font-size="11.6" letter-spacing="0.7" font-family="'Liberation Sans', Arial, sans-serif" font-weight="bold">260</text>
<text x="158.67" y="522.1" text-anchor="middle" font-size="11.6" letter-spacing="0.7" font-family="'Liberation Sans', Arial, sans-serif" font-weight="bold">270</text>
<text x="215.43" y="522.1" text-anchor="middle" font-size="11.6" letter-spacing="0.7" font-family="'Liberation Sans', Arial, sans-serif" font-weight="bold">280</text>
<text x="272.19" y="522.1" text-anchor="middle" font-size="11.6" letter-spacing="0.7" font-family="'Liberation Sans', Arial, sans-serif" font-weight="bold">290</text>
<text x="328.95" y="522.1" text-anchor="middle" font-size="11.6" letter-spacing="0.7" font-family="'Liberation Sans', Arial, sans-serif" font-weight="bold">300</text>
<text x="180.15" y="542.6" text-anchor="middle" font-size="15.85" font-family="'Liberation Serif', 'Times New Roman', serif" font-weight="bold">Wavelength (nm)</text>
<text transform="translate(15.4,403.65) rotate(-90)" x="0" y="0" text-anchor="middle" font-size="16.4" font-family="'Liberation Serif', 'Times New Roman', serif" font-weight="bold">Transmittance (%)</text>
<text x="313" y="502.5" text-anchor="middle" font-size="24.5" font-family="'Liberation Serif', 'Times New Roman', serif" font-weight="bold">(<tspan font-style="italic">b</tspan>)</text>
</svg>
</body></html>
